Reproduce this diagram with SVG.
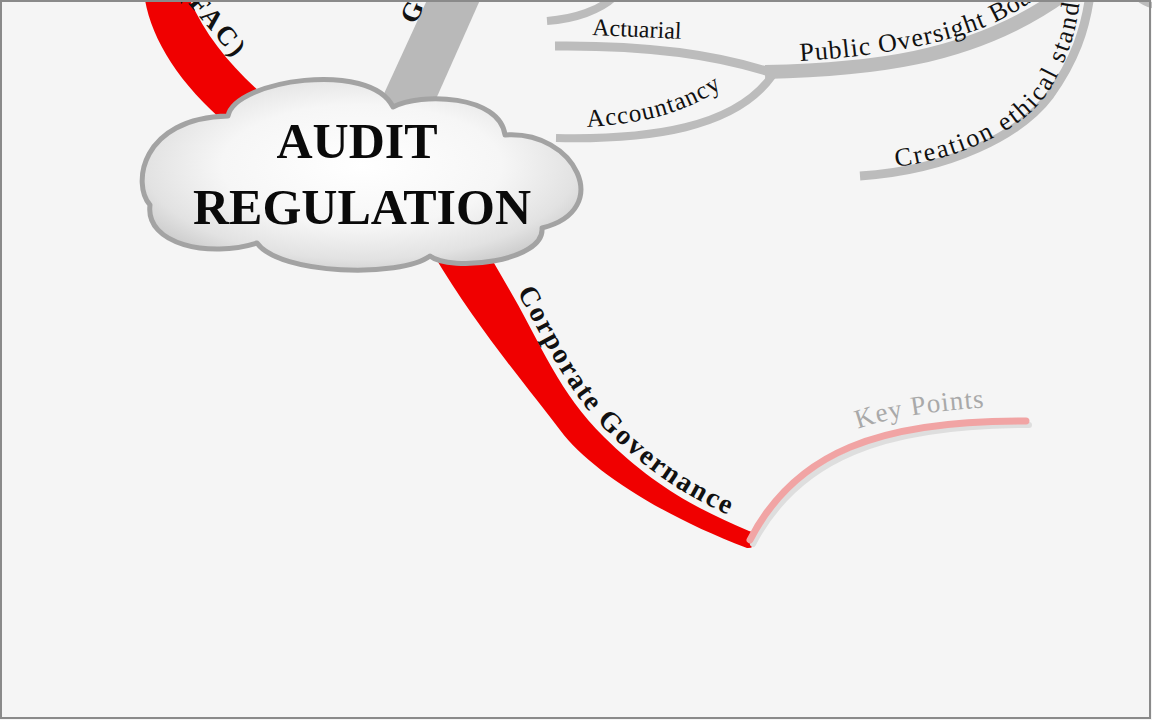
<svg xmlns="http://www.w3.org/2000/svg" xmlns:xlink="http://www.w3.org/1999/xlink" width="1152" height="720" viewBox="0 0 1152 720">
<style>
.gb{fill:none;stroke:#bcbcbc;stroke-linecap:butt}
.red{fill:#f00000}
.lbl{font-family:"Liberation Serif","Times New Roman",serif;fill:#111}
.b{font-weight:bold}
.main{font-family:"Liberation Serif","Times New Roman",serif;font-weight:bold;font-size:50px;fill:#0a0a0a;text-anchor:middle}
</style>
<defs>
<radialGradient id="cloudFill" cx="50%" cy="45%" r="58%">
<stop offset="0" stop-color="#ffffff"/>
<stop offset="0.55" stop-color="#f6f6f6"/>
<stop offset="0.85" stop-color="#e2e2e2"/>
<stop offset="1" stop-color="#cdcdcd"/>
</radialGradient>
<path id="pCorp" d="M 517,292 C 545,340 565,390 608,432 S 690,500 748,523"/>
<path id="pAcc" d="M 587,127 C 640,124 690,114 734,79"/>
<path id="pPub" d="M 800,61 C 870,57 950,45 1000,20 C 1020,10 1035,0 1052,-14"/>
<path id="pCre" d="M 896,167 C 962,158 1023,131 1049,91 C 1069,57 1078,28 1081,-12"/>
<path id="pKey" d="M 858,429 Q 905,412 992,407"/>
</defs>
<rect x="0" y="0" width="1152" height="720" fill="#f5f5f5"/>

<g id="connectors">
  <path class="red" d="M 145,0 C 152,40 180,85 228,125 L 300,130 L 262,94 C 230,65 205,35 190,0 Z"/>
  <path d="M 427,0 L 480,0 L 420,135 L 365,135 Z" fill="#b9b9b9"/>
  <path class="red" d="M 483,244 L 513,296 C 540,343 560,394 604,437 S 687,505 749,531 A 6,6 0 0 1 747,548 C 660,515 590,470 560,430 S 470,320 425,240 Z"/>
  <path d="M 753,544 C 798,458 883,425 1029,425" fill="none" stroke="#dedede" stroke-width="6" stroke-linecap="round"/>
  <path d="M 750,540 C 795,452 880,420 1026,421" fill="none" stroke="#f1a4a4" stroke-width="7" stroke-linecap="round"/>
  <path class="gb" d="M 547,21 C 575,19 600,10 614,-3" stroke-width="8"/>
  <path class="gb" d="M 555,46 C 650,45 720,55 775,74" stroke-width="9"/>
  <path class="gb" d="M 556,138 C 650,140 735,128 772,76" stroke-width="8"/>
  <path class="gb" d="M 765,72 C 860,70 970,62 1064,-6" stroke-width="14"/>
  <path class="gb" d="M 860,176 C 950,170 1020,135 1050,95 C 1075,60 1085,30 1090,-5" stroke-width="9"/>
  <path class="gb" d="M 1138,-2 C 1144,3 1149,5 1156,6" stroke-width="6"/>
</g>

<g id="node-audit-regulation">
  <path d="M 228,116 C 235,80 370,60 393,107 C 420,92 500,95 505,135 C 575,130 615,210 542,228 C 545,262 450,272 430,256 C 400,278 280,275 257,243 C 210,258 145,245 150,205 C 132,185 140,118 228,116 Z" fill="url(#cloudFill)" stroke="#a3a3a3" stroke-width="5" stroke-linejoin="round"/>
  <text class="main" x="357" y="158">AUDIT</text>
  <text class="main" x="362" y="224">REGULATION</text>
</g>

<g id="node-fac">
  <text class="lbl b" font-size="27" letter-spacing="3" transform="translate(180,-6) rotate(50)">(FAC)</text>
</g>
<g id="node-g">
  <text class="lbl b" font-size="27" transform="translate(416,25) rotate(-67)">G</text>
</g>
<g id="node-corporate-governance">
  <text class="lbl b" font-size="28" letter-spacing="2"><textPath xlink:href="#pCorp" href="#pCorp">Corporate Governance</textPath></text>
</g>
<g id="node-key-points">
  <text class="lbl" font-size="27" letter-spacing="1" style="fill:#a9a9a9"><textPath xlink:href="#pKey" href="#pKey">Key Points</textPath></text>
</g>
<g id="node-actuarial">
  <text class="lbl" font-size="24" transform="translate(592,35) rotate(2.5)">Actuarial</text>
</g>
<g id="node-accountancy">
  <text class="lbl" font-size="25" letter-spacing="1"><textPath xlink:href="#pAcc" href="#pAcc">Accountancy</textPath></text>
</g>
<g id="node-public-oversight">
  <text class="lbl" font-size="26" letter-spacing="1"><textPath xlink:href="#pPub" href="#pPub">Public Oversight Board</textPath></text>
</g>
<g id="node-creation">
  <text class="lbl" font-size="26" letter-spacing="2"><textPath xlink:href="#pCre" href="#pCre">Creation ethical standards</textPath></text>
</g>

<rect x="1" y="1" width="1149" height="717" fill="none" stroke="#8a8a8a" stroke-width="2"/>
</svg>
